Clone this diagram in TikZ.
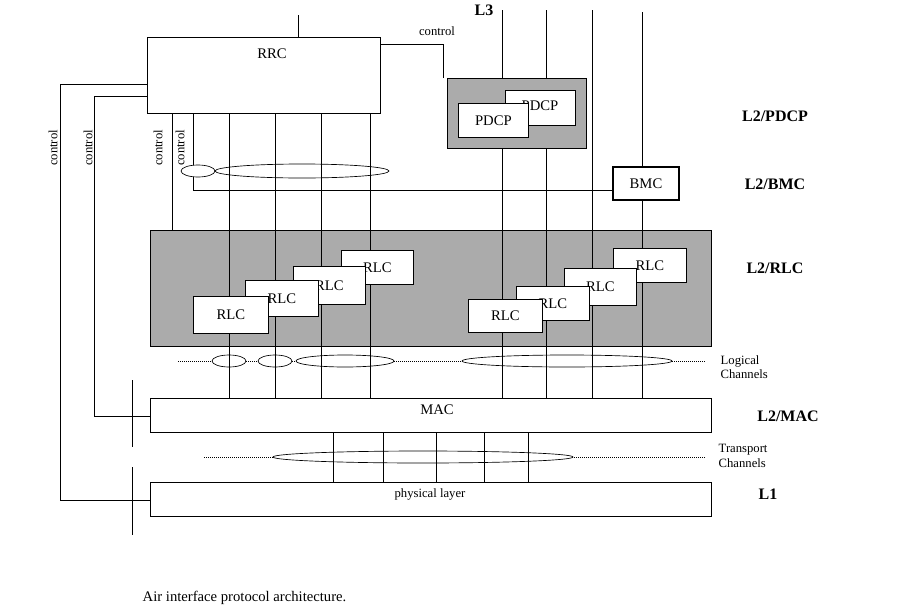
\documentclass[tikz,border=0pt]{standalone}
\usepackage{fontspec}
\setmainfont{Liberation Serif}
\usetikzlibrary{shapes.geometric}
\begin{document}
\begin{tikzpicture}[x=0.75pt,y=-0.75pt,
  box/.style={draw,fill=white,line width=0.6pt},
  gbox/.style={draw,fill=gray!80!black!55,line width=0.6pt},
  ln/.style={line width=0.5pt},
  ell/.style={draw,fill=white,line width=0.5pt,ellipse,inner sep=0},
  lab/.style={font=\fontsize{11}{13}\selectfont},
  sm/.style={font=\fontsize{9.5}{11}\selectfont},
  big/.style={font=\bfseries\fontsize{12}{14}\selectfont}]
\useasboundingbox (0,0) rectangle (908,611);
% vertical signal lines
\foreach \x in {229,275,321,370} \draw[ln] (\x,113) -- (\x,398);
\draw[ln] (502,10) -- (502,398);
\draw[ln] (546,10) -- (546,398);
\draw[ln] (592,10) -- (592,398);
\draw[ln] (642,12) -- (642,398);
% control lines
\draw[ln] (172,113) -- (172,230);
\draw[ln] (193,113) -- (193,190) -- (612,190);
\draw[ln] (298,15) -- (298,37);
% RRC
\node[box,minimum width=233*0.75pt,minimum height=76*0.75pt,anchor=north west,inner sep=0] (rrc) at (147,37) {};
\node[lab] (rrct) at (272,54) {RRC};
\draw[ln] (380,44) -- (443,44) -- (443,78);
\node[sm] (ctl1) at (437,31) {control};
\node[big] (l3) at (484,10) {L3};
% PDCP
\node[gbox,minimum width=139*0.75pt,minimum height=70*0.75pt,anchor=north west,inner sep=0] (pdcpg) at (447,78) {};
\node[box,minimum width=70*0.75pt,minimum height=35*0.75pt,anchor=north west,inner sep=0] (pdcp2) at (505,90) {};
\node[lab] at (540,106) {PDCP};
\node[box,minimum width=70*0.75pt,minimum height=34*0.75pt,anchor=north west,inner sep=0,lab] (pdcp1) at (458,103) {PDCP};
% BMC
\node[draw,fill=white,line width=1.5pt,minimum width=66*0.75pt,minimum height=33*0.75pt,anchor=north west,inner sep=0,lab] (bmc) at (612,166) {BMC};
% ellipses under RRC
\node[ell,minimum width=34*0.75pt,minimum height=12*0.75pt] (e1) at (198,171) {};
\node[ell,minimum width=174*0.75pt,minimum height=14*0.75pt] (e2) at (302,171) {};
\foreach \x in {229,275,321,370} \draw[ln] (\x,164) -- (\x,178);
% left control paths
\draw[ln] (147,84) -- (60,84) -- (60,500) -- (150,500);
\draw[ln] (147,96) -- (94,96) -- (94,416) -- (150,416);
\draw[ln] (132,380) -- (132,447);
\draw[ln] (132,467) -- (132,535);
\node[sm,rotate=90] at (53,148) {control};
\node[sm,rotate=90] at (88,148) {control};
\node[sm,rotate=90] at (158,148) {control};
\node[sm,rotate=90] at (180,148) {control};
% RLC
\node[gbox,minimum width=561*0.75pt,minimum height=116*0.75pt,anchor=north west,inner sep=0] (rlcg) at (150,230) {};
\foreach \x in {229,275,321,370,502,546,592,642} \draw[ln] (\x,230) -- (\x,346);
\node[box,minimum width=72*0.75pt,minimum height=34*0.75pt,anchor=north west,inner sep=0,lab] (r4) at (341,250) {RLC};
\node[box,minimum width=72*0.75pt,minimum height=38*0.75pt,anchor=north west,inner sep=0,lab] (r3) at (293,266) {RLC};
\node[box,minimum width=73*0.75pt,minimum height=36*0.75pt,anchor=north west,inner sep=0,lab] (r2) at (245,280) {RLC};
\node[box,minimum width=75*0.75pt,minimum height=37*0.75pt,anchor=north west,inner sep=0,lab] (r1) at (193,296) {RLC};
\node[box,minimum width=73*0.75pt,minimum height=34*0.75pt,anchor=north west,inner sep=0,lab] (r8) at (613,248) {RLC};
\node[box,minimum width=72*0.75pt,minimum height=37*0.75pt,anchor=north west,inner sep=0,lab] (r7) at (564,268) {RLC};
\node[box,minimum width=73*0.75pt,minimum height=34*0.75pt,anchor=north west,inner sep=0,lab] (r6) at (516,286) {RLC};
\node[box,minimum width=74*0.75pt,minimum height=33*0.75pt,anchor=north west,inner sep=0,lab] (r5) at (468,299) {RLC};
% logical channels
\draw[densely dotted,line width=0.5pt] (178,361) -- (705,361);
\node[ell,minimum width=34*0.75pt,minimum height=12*0.75pt] at (229,361) {};
\node[ell,minimum width=34*0.75pt,minimum height=12*0.75pt] at (275,361) {};
\node[ell,minimum width=98*0.75pt,minimum height=12*0.75pt] at (345,361) {};
\node[ell,minimum width=210*0.75pt,minimum height=12*0.75pt] at (567,361) {};
\foreach \x in {229,275,321,370,502,546,592,642} \draw[ln] (\x,355) -- (\x,367);
\node[sm,anchor=west,align=left] (logl) at (716,367) {Logical\\Channels};
% MAC
\node[box,minimum width=561*0.75pt,minimum height=34*0.75pt,anchor=north west,inner sep=0] (mac) at (150,398) {};
\node[lab] at (437,410) {MAC};
% transport
\foreach \x in {333,383,436,484,528} \draw[ln] (\x,432) -- (\x,482);
\draw[densely dotted,line width=0.5pt] (204,457) -- (705,457);
\node[ell,minimum width=300*0.75pt,minimum height=12*0.75pt] at (423,457) {};
\foreach \x in {333,383,436,484,528} \draw[ln] (\x,451) -- (\x,463);
\node[sm,anchor=west,align=left] (trl) at (714,456) {Transport\\Channels};
% physical
\node[box,minimum width=561*0.75pt,minimum height=34*0.75pt,anchor=north west,inner sep=0] (phy) at (150,482) {};
\node[sm] at (430,494) {physical layer};
% right labels
\node[big] at (775,116) {L2/PDCP};
\node[big] at (775,184) {L2/BMC};
\node[big] at (775,268) {L2/RLC};
\node[big] at (788,416) {L2/MAC};
\node[big] at (768,494) {L1};
\node[lab,anchor=west] (cap) at (138,598) {Air interface protocol architecture.};
\end{tikzpicture}
\end{document}
